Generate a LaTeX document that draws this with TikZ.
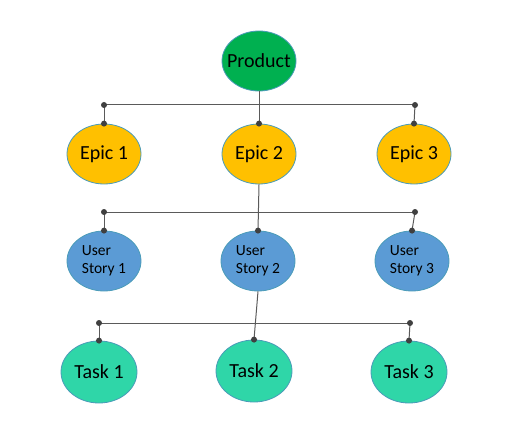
\documentclass[tikz,border=0pt]{standalone}
\usepackage{fontspec}
\setmainfont{Carlito}
\usetikzlibrary{shapes.geometric}
\definecolor{prodgreen}{HTML}{00B050}
\definecolor{epicyel}{HTML}{FFC000}
\definecolor{storyblue}{HTML}{5B9BD5}
\definecolor{taskgreen}{HTML}{2FD6A8}
\definecolor{rimcol}{HTML}{4A9BB8}
\definecolor{linecol}{HTML}{5A5A5A}
\definecolor{dotcol}{HTML}{404040}
\tikzset{
  bubble/.style={ellipse, draw=rimcol, line width=0.8pt, inner sep=0pt,
    minimum width=74pt, minimum height=60pt, font=\fontsize{20pt}{22pt}\selectfont},
  prodnode/.style={bubble, fill=prodgreen, inner xsep=-7.5pt},
  epicnode/.style={bubble, fill=epicyel},
  storynode/.style={bubble, fill=storyblue, align=left, font=\fontsize{15.5pt}{17.5pt}\selectfont},
  tasknode/.style={bubble, fill=taskgreen, minimum width=76pt, minimum height=62pt},
  link/.style={draw=linecol, line width=1pt},
  dot/.style={circle, fill=dotcol, inner sep=0pt, minimum size=6pt}
}
\begin{document}
\begin{tikzpicture}[x=1pt,y=-1pt]
\useasboundingbox (0,0) rectangle (510,446);
% nodes
\node[prodnode] (prod) at (259,61) {Product};
\node[epicnode] (e1) at (104,154) {Epic 1};
\node[epicnode] (e2) at (259,154) {Epic 2};
\node[epicnode] (e3) at (414,154) {Epic 3};
\node[storynode] (s1) at (104,261) {User\\Story 1};
\node[storynode] (s2) at (258,261) {User\\Story 2};
\node[storynode] (s3) at (412,261) {User\\Story 3};
\node[tasknode] (t1) at (99,372) {Task 1};
\node[tasknode] (t2) at (254,371) {Task 2};
\node[tasknode] (t3) at (409,372) {Task 3};
% bar corners
\coordinate (a1) at (104,105);
\coordinate (a3) at (415,105);
\coordinate (b1) at (104,212);
\coordinate (b3) at (415,212);
\coordinate (c1) at (99,323);
\coordinate (c3) at (410,323);
% level 1
\draw[link] (a1) -- (a3);
\draw[link] (a1) -- (e1.north);
\draw[link] (a3) -- (e3.north);
\draw[link] (prod.south) -- (e2.north);
% level 2
\draw[link] (b1) -- (b3);
\draw[link] (b1) -- (s1.north);
\draw[link] (b3) -- (s3.north);
\draw[link] (e2.south) -- (s2.north);
% level 3
\draw[link] (c1) -- (c3);
\draw[link] (c1) -- (t1.north);
\draw[link] (c3) -- (t3.north);
\draw[link] (s2.south) -- (t2.north);
% dots
\foreach \p in {a1,a3,b1,b3,c1,c3}
  \node[dot] at (\p) {};
\foreach \n in {e1,e2,e3,s1,s2,s3,t1,t2,t3}
  \node[dot] at (\n.north) {};
\end{tikzpicture}
\end{document}
